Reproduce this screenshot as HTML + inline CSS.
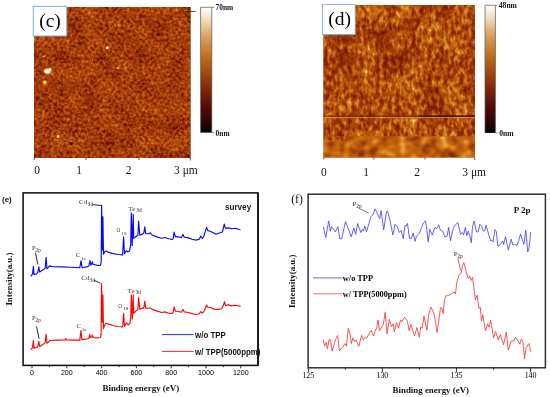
<!DOCTYPE html>
<html><head><meta charset="utf-8"><title>figure</title>
<style>html,body{margin:0;padding:0;background:#fff}svg{display:block}
.s{font-family:"Liberation Serif",serif}.a{font-family:"Liberation Sans",sans-serif}
</style></head><body>
<svg width="550" height="397" viewBox="0 0 550 397">
<defs>
<filter id="fc" x="0" y="0" width="100%" height="100%" color-interpolation-filters="sRGB">
 <feTurbulence type="fractalNoise" baseFrequency="0.33" numOctaves="2" seed="7"/><feColorMatrix type="matrix" values="1 0 0 0 0  1 0 0 0 0  1 0 0 0 0  0 0 0 0 1" result="a"/>
 <feTurbulence type="fractalNoise" baseFrequency="0.06" numOctaves="1" seed="5"/><feColorMatrix type="matrix" values="1 0 0 0 0  1 0 0 0 0  1 0 0 0 0  0 0 0 0 1" result="b"/>
 <feComposite in="a" in2="b" operator="arithmetic" k1="0" k2="0.8" k3="0.35" k4="-0.1"/>
 <feColorMatrix type="matrix" values="1 0 0 0 0  1 0 0 0 0  1 0 0 0 0  0 0 0 0 1"/>
 <feGaussianBlur stdDeviation="0.55"/>
 <feComponentTransfer><feFuncR type="table" tableValues="0.353 0.353 0.353 0.353 0.353 0.353 0.353 0.353 0.353 0.386 0.419 0.452 0.486 0.519 0.541 0.561 0.580 0.600 0.620 0.639 0.659 0.676 0.693 0.710 0.726 0.741 0.756 0.772 0.787 0.802 0.817 0.832 0.847 0.873 0.898 0.924 0.949 0.975 1.000 1.000 1.000"/><feFuncG type="table" tableValues="0.063 0.063 0.063 0.063 0.063 0.063 0.063 0.063 0.063 0.078 0.093 0.108 0.123 0.138 0.153 0.169 0.184 0.200 0.217 0.234 0.251 0.268 0.285 0.302 0.322 0.341 0.361 0.382 0.409 0.436 0.463 0.490 0.518 0.588 0.659 0.729 0.800 0.871 0.941 0.941 0.941"/><feFuncB type="table" tableValues="0.008 0.008 0.008 0.008 0.008 0.008 0.008 0.008 0.008 0.011 0.014 0.017 0.020 0.023 0.026 0.029 0.033 0.036 0.038 0.041 0.043 0.046 0.048 0.050 0.053 0.055 0.057 0.061 0.074 0.087 0.100 0.113 0.125 0.230 0.335 0.439 0.544 0.648 0.753 0.753 0.753"/></feComponentTransfer>
</filter>
<filter id="fd" x="0" y="0" width="100%" height="100%" color-interpolation-filters="sRGB">
 <feTurbulence type="fractalNoise" baseFrequency="0.25 0.16" numOctaves="2" seed="3"/><feColorMatrix type="matrix" values="1 0 0 0 0  1 0 0 0 0  1 0 0 0 0  0 0 0 0 1" result="a"/>
 <feTurbulence type="fractalNoise" baseFrequency="0.045 0.04" numOctaves="1" seed="5"/><feColorMatrix type="matrix" values="1 0 0 0 0  1 0 0 0 0  1 0 0 0 0  0 0 0 0 1" result="b"/>
 <feComposite in="a" in2="b" operator="arithmetic" k1="0" k2="0.8" k3="0.5" k4="-0.15"/>
 <feColorMatrix type="matrix" values="1 0 0 0 0  1 0 0 0 0  1 0 0 0 0  0 0 0 0 1"/>
 <feGaussianBlur stdDeviation="0.7"/>
 <feComponentTransfer><feFuncR type="table" tableValues="0.439 0.439 0.439 0.439 0.439 0.439 0.439 0.439 0.439 0.457 0.475 0.494 0.512 0.530 0.549 0.569 0.588 0.608 0.630 0.652 0.675 0.697 0.719 0.741 0.761 0.780 0.800 0.819 0.835 0.850 0.866 0.884 0.912 0.939 0.967 0.994 1.000 1.000 1.000 1.000 1.000"/><feFuncG type="table" tableValues="0.102 0.102 0.102 0.102 0.102 0.102 0.102 0.102 0.102 0.110 0.119 0.127 0.135 0.143 0.160 0.178 0.197 0.216 0.238 0.260 0.282 0.309 0.336 0.363 0.393 0.424 0.454 0.485 0.516 0.547 0.579 0.616 0.679 0.741 0.804 0.866 0.878 0.878 0.878 0.878 0.878"/><feFuncB type="table" tableValues="0.012 0.012 0.012 0.012 0.012 0.012 0.012 0.012 0.012 0.014 0.016 0.019 0.021 0.023 0.025 0.027 0.030 0.032 0.034 0.037 0.039 0.044 0.049 0.054 0.064 0.075 0.085 0.100 0.127 0.155 0.182 0.220 0.302 0.384 0.466 0.548 0.565 0.565 0.565 0.565 0.565"/></feComponentTransfer>
</filter>
<filter id="fd2" x="0" y="0" width="100%" height="100%" color-interpolation-filters="sRGB">
 <feTurbulence type="fractalNoise" baseFrequency="0.1 0.12" numOctaves="2" seed="11"/><feColorMatrix type="matrix" values="1 0 0 0 0  1 0 0 0 0  1 0 0 0 0  0 0 0 0 1" result="a"/>
 <feTurbulence type="fractalNoise" baseFrequency="0.03 0.05" numOctaves="1" seed="5"/><feColorMatrix type="matrix" values="1 0 0 0 0  1 0 0 0 0  1 0 0 0 0  0 0 0 0 1" result="b"/>
 <feComposite in="a" in2="b" operator="arithmetic" k1="0" k2="1.0" k3="0.3" k4="-0.1"/>
 <feColorMatrix type="matrix" values="1 0 0 0 0  1 0 0 0 0  1 0 0 0 0  0 0 0 0 1"/>
 <feGaussianBlur stdDeviation="0.8"/>
 <feComponentTransfer><feFuncR type="table" tableValues="0.478 0.478 0.478 0.478 0.478 0.478 0.478 0.478 0.478 0.500 0.521 0.542 0.563 0.584 0.606 0.627 0.649 0.671 0.690 0.710 0.729 0.747 0.764 0.781 0.798 0.816 0.833 0.850 0.866 0.882 0.897 0.914 0.934 0.955 0.975 0.996 1.000 1.000 1.000 1.000 1.000"/><feFuncG type="table" tableValues="0.141 0.141 0.141 0.141 0.141 0.141 0.141 0.141 0.141 0.156 0.171 0.186 0.202 0.217 0.235 0.255 0.275 0.294 0.314 0.333 0.353 0.373 0.392 0.412 0.437 0.463 0.489 0.516 0.547 0.579 0.610 0.646 0.702 0.757 0.812 0.867 0.878 0.878 0.878 0.878 0.878"/><feFuncB type="table" tableValues="0.016 0.016 0.016 0.016 0.016 0.016 0.016 0.016 0.016 0.019 0.022 0.025 0.028 0.031 0.033 0.035 0.037 0.040 0.044 0.047 0.051 0.055 0.058 0.062 0.077 0.094 0.112 0.130 0.154 0.177 0.201 0.235 0.314 0.392 0.471 0.549 0.565 0.565 0.565 0.565 0.565"/></feComponentTransfer>
</filter>
<linearGradient id="cb" x1="0" y1="0" x2="0" y2="1">
 <stop offset="0" stop-color="#ffffff"/>
 <stop offset="0.10" stop-color="#f3dcc0"/>
 <stop offset="0.22" stop-color="#dca468"/>
 <stop offset="0.36" stop-color="#c47a26"/>
 <stop offset="0.50" stop-color="#a85010"/>
 <stop offset="0.64" stop-color="#842a0a"/>
 <stop offset="0.78" stop-color="#5a0e08"/>
 <stop offset="0.90" stop-color="#300606"/>
 <stop offset="1" stop-color="#0a0202"/>
</linearGradient>
<filter id="bl" x="-50%" y="-50%" width="200%" height="200%"><feGaussianBlur stdDeviation="0.7"/></filter>
</defs>
<rect width="550" height="397" fill="#fff"/>

<g id="panel-c">
<rect x="34" y="7" width="156.5" height="151" fill="#a8480c"/>
<clipPath id="cc"><rect x="34" y="7" width="156.5" height="151"/></clipPath><g clip-path="url(#cc)"><rect x="28" y="1" width="168.5" height="163" filter="url(#fc)"/></g>
<g filter="url(#bl)">
<ellipse cx="47.8" cy="71" rx="4.6" ry="3.6" fill="#e09030" opacity="0.75"/><ellipse cx="45" cy="82.3" rx="2.6" ry="2.6" fill="#d88828" opacity="0.7"/>
<ellipse cx="47.3" cy="71.3" rx="2.9" ry="2.1" fill="#fff"/><ellipse cx="49.8" cy="69.6" rx="1.5" ry="1.3" fill="#fff"/><ellipse cx="44.8" cy="82.3" rx="1.4" ry="1.5" fill="#f8d890"/><circle cx="43.6" cy="56.4" r="1.2" fill="#e09838"/>
<circle cx="107.2" cy="47.8" r="1.5" fill="#fff3c0"/><circle cx="118" cy="68" r="1.1" fill="#f0b050"/>
<circle cx="58.2" cy="136.4" r="1.5" fill="#f7d590"/>
<circle cx="71" cy="143.6" r="1.7" fill="#2a0500"/><circle cx="46.7" cy="110.5" r="1.6" fill="#6a1404"/><ellipse cx="109" cy="134.7" rx="2.6" ry="2" fill="#7a1c04"/>
</g>
<rect x="33.2" y="6.3" width="33.6" height="29.7" fill="#fff" stroke="#7ea6dc" stroke-width="0.9"/>
<text x="50" y="27.2" text-anchor="middle" class="s" font-size="19.5">(c)</text>
<g stroke="#222" stroke-width="0.8"><path d="M34.3 158v2M86 158v2M139 158v2M190.3 158v2.5M185 11.5h10.5"/></g>
<g class="s" font-size="11.5" fill="#111"><text x="37" y="174" text-anchor="middle">0</text><text x="79" y="174" text-anchor="middle">1</text><text x="128.6" y="174" text-anchor="middle">2</text><text x="174" y="174">3 μm</text></g>
<rect x="200.6" y="7.3" width="11.2" height="125.3" fill="url(#cb)"/>
<path d="M200.6 132.6V7.3H214M211.8 7.3V132.6H214" fill="none" stroke="#555" stroke-width="0.7"/>
<g class="s" font-size="7.4" font-weight="bold" fill="#111"><text x="215.6" y="10.4">70nm</text><text x="215.6" y="135.7">0nm</text></g>
</g>
<g id="panel-d">
<rect x="323.5" y="5" width="151.5" height="152.5" fill="#b4520e"/>
<clipPath id="cd"><rect x="323.5" y="5" width="151.5" height="131.5"/></clipPath><g clip-path="url(#cd)"><rect x="317" y="0" width="164" height="142" filter="url(#fd)"/></g>
<clipPath id="cd2"><rect x="323.5" y="136.5" width="151.5" height="21"/></clipPath><g clip-path="url(#cd2)"><rect x="317" y="130" width="164" height="34" filter="url(#fd2)"/></g>
<clipPath id="cd3"><rect x="323.5" y="136.5" width="21.5" height="4"/></clipPath><g clip-path="url(#cd3)"><rect x="317" y="130" width="40" height="20" filter="url(#fd)"/></g>
<path d="M323.5 116.1H475" stroke="#6a1a03" stroke-width="1.1" opacity="0.8"/><path d="M419 116.1H475" stroke="#340800" stroke-width="1.1" opacity="0.85"/><path d="M323.5 117.6H475" stroke="#eaa848" stroke-width="0.9" opacity="0.75"/>
<rect x="322.4" y="4.6" width="32.8" height="30" fill="#fff" stroke="#7ea6dc" stroke-width="0.9"/>
<text x="339.7" y="24.8" text-anchor="middle" class="s" font-size="19.5">(d)</text>
<g stroke="#222" stroke-width="0.8"><path d="M323.8 157.5v2M373.9 157.5v2M425 157.5v2M474.8 157.5v2.5"/></g>
<g class="s" font-size="11.5" fill="#111"><text x="323.9" y="176.2" text-anchor="middle">0</text><text x="366" y="176.2" text-anchor="middle">1</text><text x="417" y="176.2" text-anchor="middle">2</text><text x="462.3" y="176.2">3 μm</text></g>
<rect x="485" y="5.3" width="10.4" height="127.6" fill="url(#cb)"/>
<path d="M485 132.9V5.3H497M495.4 5.3V132.9H497.5" fill="none" stroke="#555" stroke-width="0.7"/>
<g class="s" font-size="7.6" font-weight="bold" fill="#111"><text x="498.8" y="8.4">48nm</text><text x="499.2" y="136.1">0nm</text></g>
</g>
<g id="panel-e">
<text x="2" y="202" class="a" font-size="8" font-weight="bold" fill="#111">(e)</text>
<rect x="23.1" y="192.9" width="234.9" height="172.5" fill="#fff" stroke="#111" stroke-width="1.55"/>
<path d="M32.0 365.4v2.9M49.4 365.4v1.7M66.8 365.4v2.9M84.2 365.4v1.7M101.6 365.4v2.9M119.0 365.4v1.7M136.4 365.4v2.9M153.8 365.4v1.7M171.2 365.4v2.9M188.6 365.4v1.7M206.0 365.4v2.9M223.4 365.4v1.7M240.8 365.4v2.9" stroke="#111" stroke-width="0.9"/>
<g class="a" font-size="7.1" fill="#000" text-anchor="middle"><text x="32.0" y="374.8">0</text><text x="66.8" y="374.8">200</text><text x="101.6" y="374.8">400</text><text x="136.4" y="374.8">600</text><text x="171.2" y="374.8">800</text><text x="206.0" y="374.8">1000</text><text x="240.8" y="374.8">1200</text></g>
<text x="102.5" y="391.4" textLength="76.6" lengthAdjust="spacingAndGlyphs" class="s" font-size="9" font-weight="bold" fill="#111">Binding energy (eV)</text>
<text transform="translate(11.7 305.6) rotate(-90)" textLength="53" lengthAdjust="spacingAndGlyphs" class="s" font-size="9" font-weight="bold" fill="#111">Intensity(a.u.)</text>
<polyline points="30.8,276.5 32.5,273.9 33.4,266.3 34.0,274.5 36.5,273.9 37.8,272.6 38.8,266.9 39.7,272.0 42.9,270.1 45.2,268.2 46.1,257.4 47.0,268.8 49.5,265.9 53.1,266.7 62.0,266.9 70.9,267.3 79.8,267.7 81.0,260.8 82.1,267.7 87.6,266.6 88.9,266.0 89.9,260.6 90.8,265.1 91.7,263.8 92.3,261.7 93.1,264.2 96.5,265.1 100.4,265.5 101.2,261.9 101.6,205.3 102.3,250.0 102.9,216.7 103.5,254.3 104.8,251.7 106.1,251.1 108.6,252.4 113.1,253.6 118.2,254.5 122.6,254.9 123.6,236.8 124.5,253.6 126.5,250.5 127.7,252.0 129.6,251.1 130.7,244.1 131.3,212.9 132.2,245.4 133.2,214.2 133.7,238.4 136.0,236.5 137.9,235.2 138.6,221.2 139.8,235.2 143.0,233.9 143.8,233.1 144.8,226.8 145.7,233.7 148.9,233.7 150.4,232.8 152.1,235.0 156.5,236.9 161.6,238.2 164.8,237.5 168.6,238.8 172.5,239.5 173.3,238.2 174.1,232.1 175.4,236.9 178.2,236.9 181.4,237.5 183.0,234.4 184.3,237.2 188.4,237.9 192.2,239.2 196.0,240.1 199.2,239.3 200.8,236.2 202.4,238.3 203.8,236.5 205.1,231.9 206.6,227.4 207.8,230.6 209.6,231.0 212.8,232.6 216.0,234.3 219.2,233.0 222.4,232.0 223.3,228.2 224.3,224.1 225.3,228.2 228.7,227.9 231.9,228.8 235.7,228.2 238.9,229.5 240.6,229.7" fill="none" stroke="#0808f8" stroke-width="1.15" stroke-linejoin="round"/>
<polyline points="30.8,349.6 32.5,347.7 33.4,340.5 34.0,348.1 37.2,347.1 37.9,346.2 38.8,341.4 39.7,346.5 42.9,344.5 45.2,342.6 46.1,334.4 47.0,343.3 49.9,340.5 58.2,340.1 65.2,339.9 65.8,338.6 66.4,339.9 73.5,340.1 79.8,340.1 80.9,330.5 81.9,339.6 87.6,338.8 88.9,338.2 89.7,334.4 90.4,337.5 91.7,336.9 92.3,335.0 93.1,337.5 96.5,337.9 100.4,337.5 101.1,334.4 101.5,283.5 102.3,322.0 102.9,294.9 103.5,328.6 104.8,324.8 106.3,323.2 109.3,324.4 113.7,325.8 118.2,326.5 122.6,327.0 123.6,313.4 124.5,326.1 126.5,322.9 128.1,324.8 129.9,323.5 130.7,317.8 131.3,294.9 132.3,319.1 133.2,294.9 133.7,313.4 136.0,310.8 137.9,309.5 138.6,297.5 139.8,309.2 143.0,307.9 143.8,308.1 144.8,301.2 145.7,308.1 148.9,308.3 150.4,307.8 152.1,309.4 156.5,310.9 161.6,312.5 164.8,311.9 168.6,313.2 172.5,313.4 173.3,311.9 174.1,306.8 175.4,311.3 178.2,311.5 181.4,312.2 183.0,309.4 184.3,311.9 188.4,312.5 192.2,313.6 196.0,314.5 199.2,313.8 200.8,311.6 202.4,313.0 203.8,311.6 205.2,308.2 206.6,305.1 207.8,307.2 210.3,307.5 214.1,309.1 217.9,309.4 221.7,308.7 223.3,305.5 224.5,301.7 225.5,305.5 228.3,304.9 231.3,305.9 235.1,305.2 238.3,305.8 240.6,306.4" fill="none" stroke="#f80808" stroke-width="1.15" stroke-linejoin="round"/>
<text x="32" y="249.9" class="s" font-size="6.4" fill="#333" letter-spacing="0">P<tspan dx="0" dy="2" font-size="5.2" fill="#222" letter-spacing="0">2p</tspan></text>
<text x="75.8" y="257.2" class="s" font-size="6.6" fill="#333" letter-spacing="0">C<tspan dx="1.0" dy="2.7" font-size="5" fill="#222" letter-spacing="0">1s</tspan></text>
<text x="79.1" y="203.9" class="s" font-size="6.8" fill="#333" letter-spacing="0.3">Cd<tspan dx="0.1" dy="1.7" font-size="5.3" fill="#222" letter-spacing="0">3d</tspan></text>
<text x="128.2" y="211" class="s" font-size="6.8" fill="#333" letter-spacing="0.3">Te<tspan dx="0.8" dy="0.9" font-size="5.3" fill="#222" letter-spacing="0">3d</tspan></text>
<text x="116.6" y="231.9" class="s" font-size="5.2" fill="#333" letter-spacing="0">O<tspan dx="1.2" dy="2.6" font-size="5" fill="#222" letter-spacing="0">1S</tspan></text>
<text x="32" y="320.4" class="s" font-size="6.4" fill="#333" letter-spacing="0">P<tspan dx="0" dy="2" font-size="5.2" fill="#222" letter-spacing="0">2p</tspan></text>
<text x="76.4" y="328" class="s" font-size="6.6" fill="#333" letter-spacing="0">C<tspan dx="1.0" dy="2.7" font-size="5" fill="#222" letter-spacing="0">1s</tspan></text>
<text x="81.2" y="279.8" class="s" font-size="6.8" fill="#333" letter-spacing="0.3">Cd<tspan dx="0.1" dy="1.7" font-size="5.3" fill="#222" letter-spacing="0">3d</tspan></text>
<text x="127.6" y="292.6" class="s" font-size="6.8" fill="#333" letter-spacing="0.3">Te<tspan dx="0.8" dy="0.9" font-size="5.3" fill="#222" letter-spacing="0">3d</tspan></text>
<text x="118.2" y="307.8" class="s" font-size="5.2" fill="#333" letter-spacing="0">O<tspan dx="1.2" dy="2.6" font-size="5" fill="#222" letter-spacing="0">1S</tspan></text>
<path d="M35.5 252.7L37.8 264.4M92.7 204.6L101 205.5M36.5 326.5L39.1 338.8M94 280.3L100.4 283.1" stroke="#111" stroke-width="0.9" fill="none"/>
<text x="224.9" y="209.5" textLength="26.3" lengthAdjust="spacingAndGlyphs" class="a" font-size="9.3" font-weight="bold" fill="#222">survey</text>
<path d="M162 334.6H193.6" stroke="#1010f0" stroke-width="0.9"/><path d="M162 351.4H193.6" stroke="#f01010" stroke-width="0.9"/>
<clipPath id="ce"><rect x="23" y="192" width="235.6" height="174"/></clipPath>
<g class="a" font-size="8.8" font-weight="bold" fill="#111"><text x="195.1" y="337.8" textLength="30.8" lengthAdjust="spacingAndGlyphs">w/o TPP</text><text x="195.1" y="354.5" textLength="65.4" lengthAdjust="spacingAndGlyphs">w/ TPP(5000ppm)</text></g>
<path d="M258 192.9V365.4" stroke="#111" stroke-width="1.55"/>
</g>
<g id="panel-f">
<text x="291.2" y="203.3" class="s" font-size="11.8" fill="#111">(f)</text>
<rect x="308.1" y="194.2" width="237.3" height="173.6" fill="#fff" stroke="#2a2a2a" stroke-width="1.45"/>
<path d="M308.3 367.8v4.2M345.4 367.8v2M382.4 367.8v4.2M419.5 367.8v2M456.5 367.8v4.2M493.6 367.8v2M530.6 367.8v4.2" stroke="#222" stroke-width="0.9"/>
<g class="s" font-size="7.9" fill="#000" text-anchor="middle"><text x="308.3" y="377.6">125</text><text x="382.4" y="377.6">130</text><text x="456.5" y="377.6">135</text><text x="530.6" y="377.6">140</text></g>
<text x="392.6" y="392.8" textLength="76.4" lengthAdjust="spacingAndGlyphs" class="s" font-size="9" font-weight="bold" fill="#111">Binding energy (eV)</text>
<text transform="translate(294.5 307.9) rotate(-90)" textLength="53.4" lengthAdjust="spacingAndGlyphs" class="s" font-size="9" font-weight="bold" fill="#111">Intensity(a.u.)</text>
<polyline points="323.3,227.0 325.8,237.5 328.7,221.0 330.3,231.2 331.5,226.7 335.4,231.8 337.9,226.7 339.8,238.8 341.7,238.8 345.5,221.6 351.3,236.9 353.8,228.0 355.7,234.4 357.6,223.5 360.8,232.5 362.3,229.5 363.4,231.2 364.9,226.1 366.5,231.8 371.0,216.5 372.9,214.6 375.1,208.9 379.7,218.5 381.1,210.5 383.7,229.9 386.5,211.5 387.7,211.5 390.3,221.6 392.8,235.0 395.1,224.2 397.3,226.7 399.2,232.5 401.1,230.5 403.3,238.8 404.9,225.5 406.2,226.1 407.5,223.5 409.4,238.2 411.3,238.8 413.2,233.1 415.1,241.4 416.4,236.3 419.5,233.1 423.4,222.9 425.3,221.0 426.5,226.7 428.2,242.0 429.7,229.3 432.3,235.0 434.8,227.6 436.9,228.6 438.6,224.8 440.3,229.9 442.8,231.2 444.9,236.9 447.1,236.3 448.7,227.4 450.5,240.7 453.5,227.4 455.4,224.8 457.9,222.7 460.5,234.4 462.4,232.5 463.6,235.0 465.3,227.4 466.8,235.6 468.3,231.2 470.0,236.9 471.3,242.6 472.5,226.7 474.1,221.0 476.4,231.8 478.3,231.8 479.8,224.2 481.5,226.1 483.5,231.3 484.9,230.5 486.0,225.4 487.7,231.0 490.6,240.9 491.6,240.1 493.0,241.8 495.0,229.7 496.3,231.4 497.9,246.3 499.8,245.0 502.7,240.9 503.7,244.5 505.5,236.7 508.3,250.0 511.2,239.2 512.8,244.9 514.4,244.3 516.9,245.5 518.8,240.5 520.5,234.1 523.9,244.3 525.8,230.3 527.7,251.9 529.0,248.1 530.7,232.2" fill="none" stroke="#3a3af4" stroke-width="0.8" stroke-linejoin="round"/>
<polyline points="323.3,339.8 324.5,346.2 326.2,342.4 327.5,348.7 329.0,339.8 330.5,339.8 332.2,351.3 335.4,339.8 337.7,335.4 339.4,350.6 342.4,347.5 344.9,343.6 346.4,346.2 348.3,328.4 350.0,334.1 351.3,343.6 352.9,337.9 354.5,341.7 356.0,339.8 358.9,346.2 361.5,335.4 363.1,339.8 364.9,337.9 366.5,338.5 371.0,330.3 373.5,336.0 375.8,329.0 376.7,328.9 377.9,320.0 379.6,330.8 383.3,324.4 385.2,312.3 387.1,333.9 389.3,319.3 391.5,326.9 393.5,323.7 394.3,332.0 396.6,322.5 398.5,328.2 400.5,319.9 401.7,321.8 404.5,317.4 407.5,321.2 409.1,330.7 410.9,324.4 414.5,335.8 417.0,327.5 419.3,337.1 420.8,326.9 422.1,328.2 424.0,316.1 426.9,330.1 428.7,314.2 431.0,307.2 434.2,314.2 437.1,332.6 440.5,307.8 441.8,307.8 443.1,313.5 444.7,299.6 446.2,295.2 447.7,295.8 451.5,293.9 454.1,292.0 455.4,293.9 456.9,281.8 459.2,274.8 461.1,273.5 462.4,265.9 463.9,262.7 465.5,269.1 468.3,278.6 469.6,276.1 471.3,280.5 472.5,277.4 473.8,287.0 475.4,300.0 477.1,295.2 479.0,308.5 480.3,307.2 481.5,321.3 482.8,314.8 485.5,330.8 487.6,323.8 488.9,327.2 490.7,320.0 493.5,337.8 495.7,331.5 498.3,340.0 500.4,334.6 503.5,344.8 506.3,332.3 508.3,349.9 511.2,341.0 513.7,341.0 515.6,337.2 518.2,341.0 519.7,344.2 521.4,339.1 523.0,342.3 524.5,358.8 526.1,347.4 529.0,343.5 530.7,351.8" fill="none" stroke="#f62c2c" stroke-width="0.8" stroke-linejoin="round"/>
<text x="352.4" y="206.2" class="s" font-size="7" fill="#333" letter-spacing="0">P<tspan dx="0" dy="1.7" font-size="5.2" fill="#222" letter-spacing="0">2p</tspan></text>
<text x="453.8" y="255.8" class="s" font-size="7" fill="#333" letter-spacing="0">P<tspan dx="0" dy="1.7" font-size="5.2" fill="#222" letter-spacing="0">2p</tspan></text>
<path d="M358.9 208.3L368.7 213.1M457.9 258.3L460.5 270.4" stroke="#444" stroke-width="0.7" fill="none"/>
<text x="513.7" y="213.4" class="s" font-size="9" font-weight="bold" fill="#111">P 2p</text>
<path d="M313.1 277.9H342.5" stroke="#5a5af5" stroke-width="0.9"/><path d="M313.1 293.8H342.5" stroke="#f55a5a" stroke-width="0.9"/>
<g class="s" font-size="8.5" font-weight="bold" fill="#000"><text x="342.8" y="280.5" textLength="30.3" lengthAdjust="spacingAndGlyphs">w/o TPP</text><text x="342.8" y="296.8" textLength="63.9" lengthAdjust="spacingAndGlyphs">w/ TPP(5000ppm)</text></g>
</g>
</svg></body></html>
